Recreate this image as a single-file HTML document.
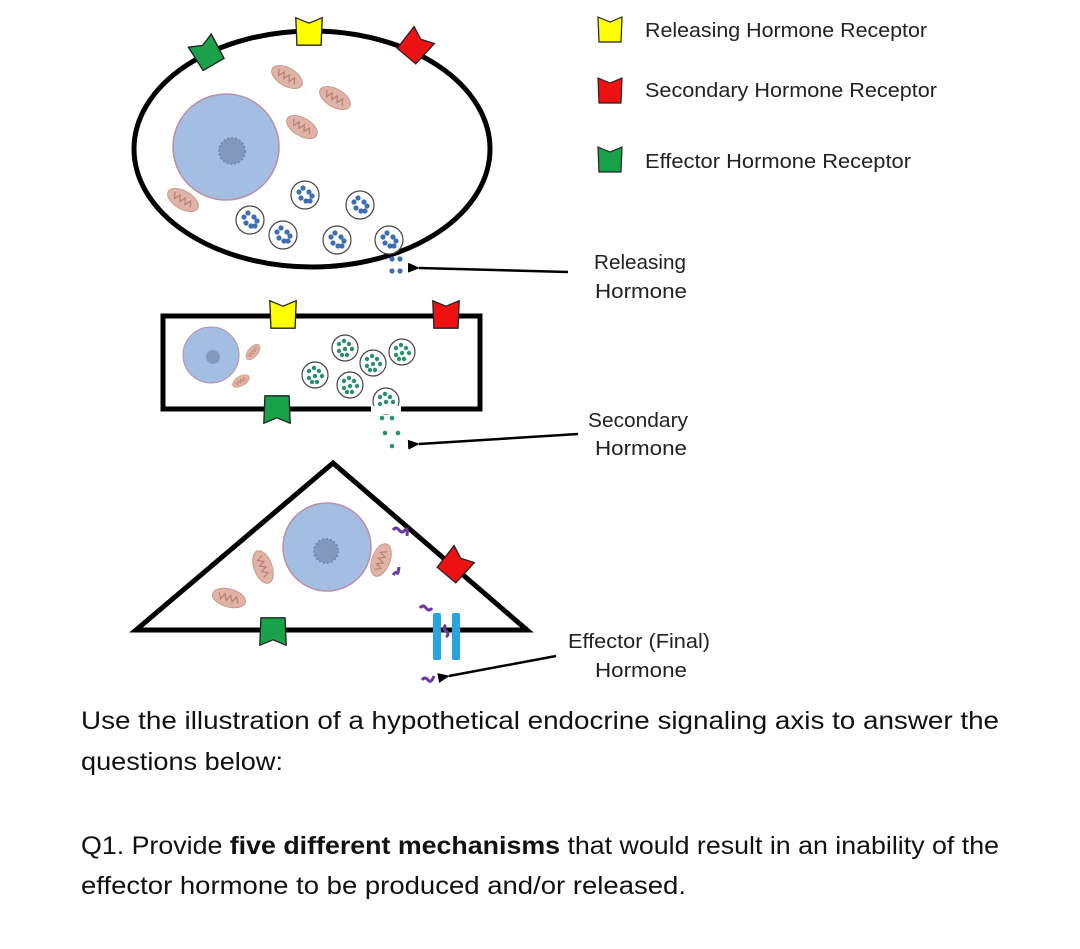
<!DOCTYPE html>
<html><head><meta charset="utf-8"><style>
html,body{margin:0;padding:0;background:#fff;}
svg{display:block;font-family:"Liberation Sans",sans-serif;}
</style></head><body>
<svg width="1080" height="949" viewBox="0 0 1080 949" xmlns="http://www.w3.org/2000/svg">
<defs>
<path id="rc" d="M-12,-13 L0,-8 L12,-13 L11,12 L-11,12 Z" stroke="#222" stroke-width="1.2"/>
<g id="mito"><ellipse rx="17" ry="9" fill="#e0b3a6" stroke="#c99a8c" stroke-width="1"/>
<path d="M-11,-3 l3,6 l3,-6 l3,6 l3,-6 l3,6 l3,-6 l3,6" fill="none" stroke="#b57f70" stroke-width="1.2"/></g>
<g id="vb"><circle r="14" fill="#fff" stroke="#444" stroke-width="1.2"/>
<circle cx="-6" cy="-3" r="2.6" fill="#3d6eb5"/><circle cx="-2" cy="-7" r="2.6" fill="#3d6eb5"/><circle cx="4" cy="-3" r="2.6" fill="#3d6eb5"/><circle cx="7" cy="1" r="2.6" fill="#3d6eb5"/><circle cx="-4" cy="3" r="2.6" fill="#3d6eb5"/><circle cx="1" cy="6" r="2.6" fill="#3d6eb5"/><circle cx="5" cy="6" r="2.6" fill="#3d6eb5"/></g>
<g id="vg"><circle r="13" fill="#fff" stroke="#444" stroke-width="1.2"/>
<circle cx="-6" cy="-4" r="2.2" fill="#2a8f6e"/><circle cx="-1" cy="-7" r="2.2" fill="#2a8f6e"/><circle cx="4" cy="-4" r="2.2" fill="#2a8f6e"/><circle cx="7" cy="1" r="2.2" fill="#2a8f6e"/><circle cx="-6" cy="3" r="2.2" fill="#2a8f6e"/><circle cx="0" cy="1" r="2.2" fill="#2a8f6e"/><circle cx="2" cy="7" r="2.2" fill="#2a8f6e"/><circle cx="-3" cy="7" r="2.2" fill="#2a8f6e"/></g>
<marker id="ah" markerWidth="12" markerHeight="10" refX="1" refY="5" orient="auto" markerUnits="userSpaceOnUse"><path d="M12,0 L0,5 L12,10 Z" fill="#000"/></marker>
</defs>

<!-- top cell -->
<ellipse cx="312" cy="149" rx="178" ry="118" fill="#fff" stroke="#000" stroke-width="5"/>
<circle cx="226" cy="147" r="53" fill="#a4bde2" stroke="#b88fa6" stroke-width="1.5"/>
<circle cx="232" cy="151" r="13" fill="#8299bb" stroke="#7089ad" stroke-width="2" stroke-dasharray="2 2"/>
<use href="#mito" transform="translate(287,77) rotate(30)"/>
<use href="#mito" transform="translate(335,98) rotate(30)"/>
<use href="#mito" transform="translate(302,127) rotate(30)"/>
<use href="#mito" transform="translate(183,200) rotate(30)"/>
<use href="#vb" x="305" y="195"/><use href="#vb" x="360" y="205"/>
<use href="#vb" x="250" y="220"/><use href="#vb" x="283" y="235"/>
<use href="#vb" x="337" y="240"/><use href="#vb" x="389" y="240"/>
<circle cx="392" cy="259" r="2.6" fill="#3d6eb5"/><circle cx="400" cy="259" r="2.6" fill="#3d6eb5"/><circle cx="392" cy="271" r="2.6" fill="#3d6eb5"/><circle cx="400" cy="271" r="2.6" fill="#3d6eb5"/>
<use href="#rc" fill="#ffff00" transform="translate(309,32) scale(1.1)"/>
<use href="#rc" fill="#1aa24a" transform="translate(207,53) rotate(-30) scale(1.1)"/>
<use href="#rc" fill="#ee1111" transform="translate(415,46) rotate(40) scale(1.1)"/>

<!-- rectangle cell -->
<rect x="163" y="316" width="317" height="93" fill="#fff" stroke="#000" stroke-width="5"/>
<circle cx="211" cy="355" r="28" fill="#a4bde2" stroke="#b88fa6" stroke-width="1"/>
<circle cx="213" cy="357" r="7" fill="#8299bb"/>
<use href="#mito" transform="translate(253,352) rotate(-50) scale(0.55)"/>
<use href="#mito" transform="translate(241,381) rotate(-30) scale(0.55)"/>
<use href="#vg" x="345" y="348"/><use href="#vg" x="373" y="363"/><use href="#vg" x="402" y="352"/>
<use href="#vg" x="315" y="375"/><use href="#vg" x="350" y="385"/>
<g><use href="#vg" x="386" y="401"/><rect x="371" y="406" width="30" height="8" fill="#fff"/></g>
<circle cx="382" cy="418" r="2.3" fill="#2a8f6e"/><circle cx="392" cy="418" r="2.3" fill="#2a8f6e"/><circle cx="385" cy="433" r="2.3" fill="#2a8f6e"/><circle cx="398" cy="433" r="2.3" fill="#2a8f6e"/><circle cx="392" cy="446" r="2.3" fill="#2a8f6e"/>
<use href="#rc" fill="#ffff00" transform="translate(283,315) scale(1.1)"/>
<use href="#rc" fill="#ee1111" transform="translate(446,315) scale(1.1)"/>
<use href="#rc" fill="#1aa24a" transform="translate(277,409) rotate(180) scale(1.1)"/>

<!-- triangle cell -->
<polygon points="136,630 333,463 527,630" fill="#fff" stroke="#000" stroke-width="5" stroke-linejoin="miter"/>
<circle cx="327" cy="547" r="44" fill="#a4bde2" stroke="#b88fa6" stroke-width="1.5"/>
<circle cx="326" cy="551" r="12" fill="#8299bb" stroke="#7089ad" stroke-width="2" stroke-dasharray="2 2"/>
<use href="#mito" transform="translate(263,567) rotate(70) scale(1)"/>
<use href="#mito" transform="translate(229,598) rotate(15)"/>
<use href="#mito" transform="translate(381,560) rotate(-70)"/>
<path d="M393,530 q3,-4 6,0 t6,0 t2,6" fill="none" stroke="#6a3aa0" stroke-width="3"/>
<path d="M393,575 q3,-4 4,-2 t2,-6" fill="none" stroke="#6a3aa0" stroke-width="3"/>
<path d="M420,608 q3,-4 6,0 t6,0" fill="none" stroke="#6a3aa0" stroke-width="3"/>
<path d="M446,625 q-4,3 0,6 t0,6" fill="none" stroke="#6a3aa0" stroke-width="3"/>
<path d="M422,680 q3,-4 6,0 t6,-4" fill="none" stroke="#6a3aa0" stroke-width="3"/>
<rect x="433" y="613" width="8" height="47" rx="2" fill="#2aa4de"/>
<rect x="452" y="613" width="8" height="47" rx="2" fill="#2aa4de"/>
<use href="#rc" fill="#ee1111" transform="translate(455,565) rotate(40) scale(1.1)"/>
<use href="#rc" fill="#1aa24a" transform="translate(273,631) rotate(180) scale(1.1)"/>

<!-- arrows -->
<line x1="568" y1="272" x2="419" y2="268" stroke="#000" stroke-width="2.5" marker-end="url(#ah)"/>
<line x1="578" y1="434" x2="419" y2="444" stroke="#000" stroke-width="2.5" marker-end="url(#ah)"/>
<line x1="556" y1="656" x2="449" y2="676" stroke="#000" stroke-width="2.5" marker-end="url(#ah)"/>

<!-- legend -->
<use href="#rc" fill="#ffff00" transform="translate(610,30)"/>
<use href="#rc" fill="#ee1111" transform="translate(610,91)"/>
<use href="#rc" fill="#1aa24a" transform="translate(610,160)"/>
<g font-size="20" fill="#222">
<text x="645" y="37" textLength="282" lengthAdjust="spacingAndGlyphs">Releasing Hormone Receptor</text>
<text x="645" y="97" textLength="292" lengthAdjust="spacingAndGlyphs">Secondary Hormone Receptor</text>
<text x="645" y="168" textLength="266" lengthAdjust="spacingAndGlyphs">Effector Hormone Receptor</text>
<text x="594" y="269" textLength="92" lengthAdjust="spacingAndGlyphs">Releasing</text>
<text x="595" y="298" textLength="92" lengthAdjust="spacingAndGlyphs">Hormone</text>
<text x="588" y="427" textLength="100" lengthAdjust="spacingAndGlyphs">Secondary</text>
<text x="595" y="455" textLength="92" lengthAdjust="spacingAndGlyphs">Hormone</text>
<text x="568" y="648" textLength="142" lengthAdjust="spacingAndGlyphs">Effector (Final)</text>
<text x="595" y="677" textLength="92" lengthAdjust="spacingAndGlyphs">Hormone</text>
</g>

<!-- body text -->
<g font-size="25" fill="#111">
<text x="81" y="729" textLength="918" lengthAdjust="spacingAndGlyphs">Use the illustration of a hypothetical endocrine signaling axis to answer the</text>
<text x="81" y="770" textLength="202" lengthAdjust="spacingAndGlyphs">questions below:</text>
<text x="81" y="854" textLength="918" lengthAdjust="spacingAndGlyphs">Q1. Provide <tspan font-weight="bold">five different mechanisms</tspan> that would result in an inability of the</text>
<text x="81" y="894" textLength="605" lengthAdjust="spacingAndGlyphs">effector hormone to be produced and/or released.</text>
</g>
</svg>
</body></html>
